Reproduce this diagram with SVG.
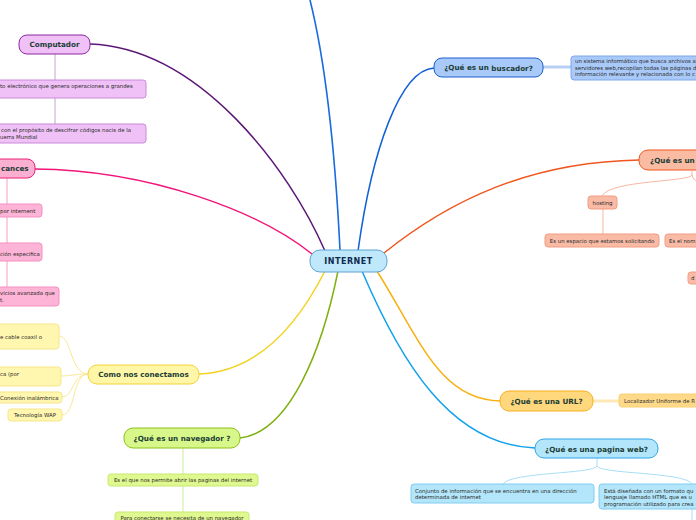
<svg xmlns="http://www.w3.org/2000/svg" width="696" height="520" viewBox="0 0 696 520">
<style>
text{font-family:"DejaVu Sans","Liberation Sans",sans-serif}
.mt{font-size:7.2px;font-weight:bold;fill:#1b3d36;text-anchor:middle}
.ct{font-size:5.4px;fill:#2a2a2a}
.cc{font-size:5.4px;fill:#2a2a2a;text-anchor:middle}
</style>
<rect width="696" height="520" fill="#ffffff"/>
<g id="connectors" fill="none">
  <path d="M340,250 C335,150 325,60 310,0" stroke="#1a6ae0" stroke-width="1.6"/>
  <path d="M90,44 C200,48 290,170 325,251" stroke="#5b1776" stroke-width="1.5"/>
  <path d="M35,169 C150,170 260,212 312,254" stroke="#f0157a" stroke-width="1.5"/>
  <path d="M199,374 C260,372 300,320 325,271" stroke="#f3d220" stroke-width="1.5"/>
  <path d="M240,438 C290,432 322,350 338,271" stroke="#7fb00f" stroke-width="1.5"/>
  <path d="M358,251 C372,150 400,70 434,68" stroke="#1060d6" stroke-width="1.5"/>
  <path d="M384,253 C450,200 530,162 639,160" stroke="#f0561e" stroke-width="1.5"/>
  <path d="M377,271 C420,340 440,400 500,401" stroke="#f8b010" stroke-width="1.5"/>
  <path d="M362,271 C400,360 450,445 535,448" stroke="#10a2ea" stroke-width="1.5"/>
  <path d="M55,54 V80 M55,98 V124" stroke="#c6a4cf" stroke-width="1"/>
  <path d="M7,178 V204 M7,217 V243 M7,261 V287" stroke="#f5a0c8" stroke-width="1"/>
  <path d="M88,374 C70,374 72,336 59,336 M88,374 C75,374 70,376 61,376 M88,374 C72,374 74,397 62,397 M88,374 C72,374 76,415 62,415" stroke="#fae89a" stroke-width="1"/>
  <path d="M183,448 V474 M183,486 V512" stroke="#d0ec98" stroke-width="1"/>
  <path d="M543,67 H571" stroke="#b8d0f4" stroke-width="3"/>
  <path d="M692,171 V175 C690,182 610,180 602,196 M692,175 C694,182 700,183 705,185 M603,209 V234" stroke="#f8b8a2" stroke-width="1"/>
  <path d="M593,401 H619" stroke="#fde9b8" stroke-width="3"/>
  <path d="M597,458 V466 C595,474 510,472 503,484 M597,466 C599,474 686,472 692,484 M692,509 V520" stroke="#a8def6" stroke-width="1"/>
</g>
<g id="internet">
  <rect x="310" y="250" width="77" height="22" rx="10" fill="#bfe8fa" stroke="#5da3d5" stroke-width="1"/>
  <text x="348.5" y="264" font-size="8" font-weight="bold" fill="#102a50" text-anchor="middle" letter-spacing="0.5">INTERNET</text>
</g>
<g id="computador">
  <rect x="19" y="35" width="71" height="19" rx="8" fill="#efc1f7" stroke="#8c2aa0"/>
  <text class="mt" x="54.5" y="47">Computador</text>
</g>
<g id="computador-1">
  <rect x="-20" y="80" width="166" height="18" rx="3" fill="#efc1f7" stroke="#c98ad8"/>
  <text class="ct" x="0" y="88">to electrónico que genera operaciones a grandes</text>
</g>
<g id="computador-2">
  <rect x="-20" y="124" width="166" height="19" rx="3" fill="#efc1f7" stroke="#c98ad8"/>
  <text class="ct" x="1" y="132">con el propósito de descifrar códigos nacis de la</text>
  <text class="ct" x="0" y="138.5">uerra Mundial</text>
</g>
<g id="alcances">
  <rect x="-20" y="159" width="55" height="19" rx="8" fill="#fbb0d2" stroke="#ee1f79"/>
  <text class="mt" x="1" y="171" style="text-anchor:start">cances</text>
</g>
<g id="alcances-1">
  <rect x="-20" y="204" width="62" height="13" rx="3" fill="#fdb4d6" stroke="#f391c1"/>
  <text class="ct" x="0" y="212.5">por internent</text>
</g>
<g id="alcances-2">
  <rect x="-20" y="243" width="62" height="18" rx="3" fill="#fdb4d6" stroke="#f391c1"/>
  <text class="ct" x="0" y="256">ción especifica</text>
</g>
<g id="alcances-3">
  <rect x="-20" y="287" width="79" height="19" rx="3" fill="#fdb4d6" stroke="#f391c1"/>
  <text class="ct" x="0" y="295">vicios avanzada que</text>
  <text class="ct" x="0" y="301.5">t.</text>
</g>
<g id="como">
  <rect x="88" y="365" width="111" height="19" rx="9" fill="#fff6a8" stroke="#f3d337"/>
  <text class="mt" x="143.5" y="377">Como nos conectamos</text>
</g>
<g id="como-1">
  <rect x="-20" y="324" width="79" height="25" rx="3" fill="#fff6b0" stroke="#f8e68a"/>
  <text class="ct" x="0" y="339">e cable coaxil o</text>
</g>
<g id="como-2">
  <rect x="-20" y="367" width="81" height="19" rx="3" fill="#fff6b0" stroke="#f8e68a"/>
  <text class="ct" x="0" y="375.5">ca (por</text>
</g>
<g id="como-3">
  <rect x="-20" y="392" width="82" height="11" rx="3" fill="#fff6b0" stroke="#f8e68a"/>
  <text class="ct" x="0" y="399.5">Conexión inalámbrica</text>
</g>
<g id="como-4">
  <rect x="8" y="409" width="54" height="12" rx="3" fill="#fff6b0" stroke="#f8e68a"/>
  <text class="cc" x="35" y="416.5">Tecnología  WAP</text>
</g>
<g id="navegador">
  <rect x="124" y="428" width="116" height="20" rx="9" fill="#d8f78a" stroke="#8fc01a"/>
  <text class="mt" x="182" y="441">¿Qué es un navegador ?</text>
</g>
<g id="navegador-1">
  <rect x="108" y="474" width="150" height="12" rx="3" fill="#e0f890" stroke="#c8e870"/>
  <text class="cc" x="183" y="482">Es el que nos permite abrir las paginas del internet</text>
</g>
<g id="navegador-2">
  <rect x="115" y="512" width="134" height="14" rx="3" fill="#e0f890" stroke="#c8e870"/>
  <text class="cc" x="182" y="520">Para conectarse se necesita de un navegador</text>
</g>
<g id="buscador">
  <rect x="434" y="58" width="109" height="19" rx="8" fill="#a9c9f8" stroke="#1c5fd0"/>
  <text class="mt" x="488.5" y="70">¿Qué es un <tspan dy="1">buscador?</tspan></text>
</g>
<g id="buscador-1">
  <rect x="571" y="56" width="140" height="24" rx="3" fill="#a9c9f8" stroke="#7ea6ea"/>
  <text class="ct" x="575" y="63">un sistema informático que busca archivos a</text>
  <text class="ct" x="575" y="69.5">servidores web,recopilan todas las páginas d</text>
  <text class="ct" x="575" y="76">información relevante y relacionada con lo c</text>
</g>
<g id="dominio">
  <rect x="639" y="150" width="80" height="20" rx="9" fill="#f9bba2" stroke="#f0561e"/>
  <text class="mt" x="650" y="163" style="text-anchor:start">¿Qué es un</text>
</g>
<g id="hosting">
  <rect x="588" y="196" width="29" height="13" rx="3" fill="#f9bba6" stroke="#f39c80"/>
  <text class="cc" x="602.5" y="204.5">hosting</text>
</g>
<g id="hosting-1">
  <rect x="545" y="234" width="114" height="13" rx="3" fill="#f9bba6" stroke="#f39c80"/>
  <text class="cc" x="602" y="242.5">Es un espacio que estamos solicitando</text>
</g>
<g id="dominio-2">
  <rect x="665" y="234" width="50" height="13" rx="3" fill="#f9bba6" stroke="#f39c80"/>
  <text class="ct" x="669" y="242.5">Es el nom</text>
</g>
<g id="dominio-3">
  <rect x="688" y="272" width="20" height="12" rx="3" fill="#f9bba6" stroke="#f39c80"/>
  <text class="ct" x="691" y="280">d</text>
</g>
<g id="url">
  <rect x="500" y="391" width="93" height="20" rx="9" fill="#ffd77c" stroke="#f7b01e"/>
  <text class="mt" x="546.5" y="404">¿Qué es una URL?</text>
</g>
<g id="url-1">
  <rect x="619" y="394" width="90" height="13" rx="3" fill="#ffd98a" stroke="#f8d070"/>
  <text class="ct" x="624" y="402.5">Localizador Uniforme de R</text>
</g>
<g id="web">
  <rect x="535" y="439" width="123" height="19" rx="9" fill="#b3e6fa" stroke="#2ea6e8"/>
  <text class="mt" x="596.5" y="451.5">¿Qué es una pagina web?</text>
</g>
<g id="web-1">
  <rect x="411" y="484" width="183" height="19" rx="3" fill="#b3e6fa" stroke="#80ccf0"/>
  <text class="ct" x="415" y="492.5">Conjunto de información que se encuentra en una dirección</text>
  <text class="ct" x="415" y="499">determinada de internet</text>
</g>
<g id="web-2">
  <rect x="599" y="484" width="110" height="25" rx="3" fill="#b3e6fa" stroke="#80ccf0"/>
  <text class="ct" x="604" y="492.5">Está diseñada con un formato qu</text>
  <text class="ct" x="604" y="499">lenguaje llamado HTML  que es u</text>
  <text class="ct" x="604" y="505.5">programación utilizado para crea</text>
</g>
</svg>
